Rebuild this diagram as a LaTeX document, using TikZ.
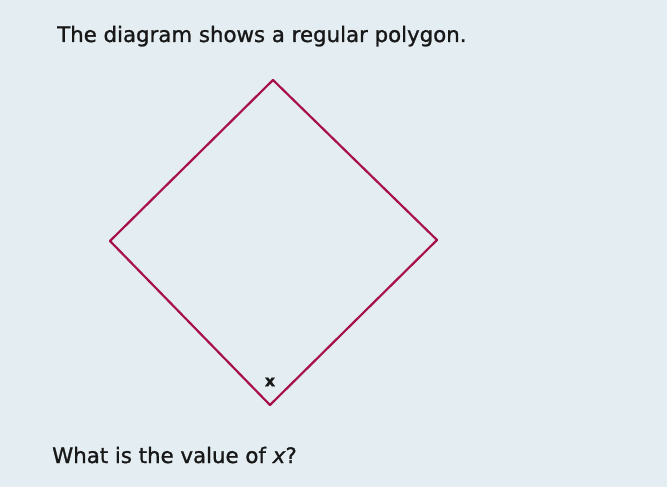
\documentclass[tikz,border=0pt]{standalone}
\usepackage{fontspec}
\setmainfont{DejaVu Sans}[FakeBold=1.2]
\definecolor{bgc}{HTML}{E4EEF2}
\definecolor{edge}{HTML}{A8104C}
\definecolor{txt}{HTML}{181818}
\begin{document}
\begin{tikzpicture}[x=1pt,y=-1pt,
  lbl/.style={inner sep=0pt,text=txt,font=\fontsize{21.3}{24}\selectfont},
  side/.style={draw=edge,line width=2.2pt,line join=round}]
\fill[bgc] (0,0) rectangle (667,487);
\useasboundingbox (0,0) rectangle (667,487);
\node[lbl,anchor=base west] (title) at (57,42) {The diagram shows a regular polygon.};
\coordinate (T) at (273,80);
\coordinate (R) at (437,240);
\coordinate (B) at (270,405);
\coordinate (L) at (110,241);
\draw[side] (T) -- (R) -- (B) -- (L) -- cycle;
\node[lbl,font=\fontsize{16}{18}\bfseries\selectfont] (xl) at (270,382) {x};
\node[lbl,anchor=base west] (q) at (52,463) {What is the value of \textit{x}?};
\end{tikzpicture}
\end{document}
